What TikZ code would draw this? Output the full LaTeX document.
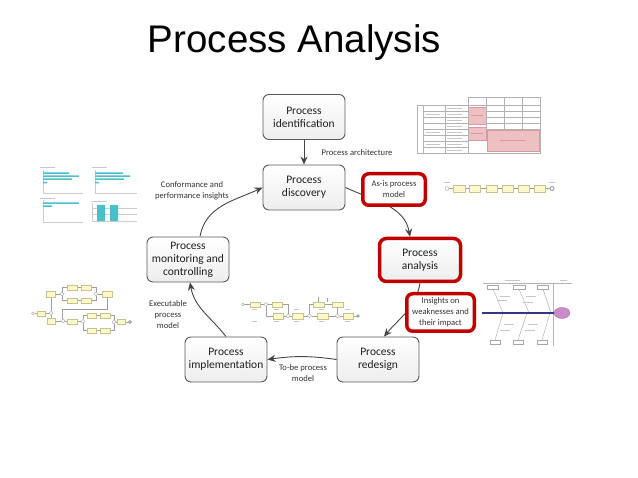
\documentclass[tikz,border=0pt]{standalone}
\usepackage{fontspec}
\setmainfont{Carlito}
\newfontfamily\titlefont{Liberation Sans}
\usetikzlibrary{arrows.meta}
\pgfdeclarelayer{bg}
\pgfsetlayers{bg,main}
\definecolor{boxborder}{HTML}{595959}
\definecolor{redc}{HTML}{C00000}
\definecolor{arrowc}{HTML}{454545}
\definecolor{txtc}{HTML}{1F1F1F}
\definecolor{labc}{HTML}{333333}
\definecolor{tealbar}{HTML}{4BBFC8}
\definecolor{taskfill}{HTML}{FBF8CC}
\definecolor{taskdraw}{HTML}{C9C28A}
\definecolor{pinkc}{HTML}{EDC0C3}
\definecolor{pinkd}{HTML}{D99A9F}
\definecolor{navyc}{HTML}{34348A}
\definecolor{purpc}{HTML}{C98BC9}
\tikzset{
  pbox/.style={draw=boxborder, line width=0.9pt, rounded corners=6pt,
    top color=white, bottom color=black!7, minimum width=82pt, minimum height=45pt,
    align=center, text=txtc, inner sep=1pt, font=\fontsize{11.5}{13}\selectfont},
  redlab/.style={draw=redc, line width=3.5pt, rounded corners=6pt, fill=white,
    align=center, text=labc, inner sep=1pt, font=\fontsize{8.6}{11}\selectfont},
  lab/.style={align=center, text=labc, inner sep=1pt, font=\fontsize{8.6}{11}\selectfont},
  conn/.style={draw=arrowc, line width=0.9pt, -{Stealth[length=8pt,width=7pt]}},
  task/.style={draw=taskdraw, fill=taskfill, line width=0.4pt},
  flow/.style={draw=gray!75, line width=0.35pt},
  tbl/.style={draw=gray!60, line width=0.35pt},
  axisl/.style={draw=gray!40, line width=0.3pt},
  scrib/.style={draw=gray!45, line width=0.5pt},
  gwst/.style={draw=gray!75, fill=white, line width=0.35pt},
  thbox/.style={draw=gray!70, fill=white, line width=0.35pt}
}
\begin{document}
\begin{tikzpicture}[x=1pt,y=1pt]
\useasboundingbox (0,0) rectangle (638,478);

% title
\node[anchor=base, inner sep=0pt, font=\titlefont\fontsize{38.5}{40}\selectfont] (title) at (294.5,425) {Process Analysis};

% main nodes
\node[pbox] (ident) at (304,361) {Process\\identification};
\node[pbox] (disc) at (304,290.5) {Process\\discovery};
\node[pbox] (mon) at (188,218.5) {Process\\monitoring and\\controlling};
\node[pbox] (impl) at (226,118.5) {Process\\implementation};
\node[pbox] (redes) at (378,118.5) {Process\\redesign};
\node[pbox, draw=redc, line width=3.5pt, rounded corners=7pt, minimum width=81pt, minimum height=43pt] (ana) at (420,218) {Process\\analysis};

% labels
\node[lab] (larch) at (357,325.5) {Process architecture};
\node[lab] (lconf) at (192,287) {Conformance and\\performance insights};
\node[lab] (lexec) at (168,163) {Executable\\process\\model};
\node[lab] (ltobe) at (303,105) {To-be process\\model};
\node[redlab, minimum width=62.5pt, minimum height=31.5pt] (asis) at (394,288.5) {As-is process\\model};
\node[redlab, minimum width=67.5pt, minimum height=37.5pt] (ins) at (440.5,165.5) {Insights on\\weaknesses and\\their impact};

\begin{pgfonlayer}{bg}
% connectors
\draw[conn] (ident) -- (disc);
\draw[conn] (disc.east) to[out=-25,in=100] ([xshift=-10pt]ana.north);
\draw[conn] (ana.south) to[out=-100,in=50] ([xshift=6pt]redes.north);
\draw[conn] (redes.west) to[out=172,in=8] (impl.east);
\draw[conn] (impl.north) to[out=128,in=-80] ([xshift=2pt]mon.south);
\draw[conn] ([xshift=12pt]mon.north) to[out=80,in=205] (disc.west);

\begin{scope}[shift={(0,478)}, yscale=-1]
% ---- table thumbnail (top right)
\fill[pinkc] (468,107) rectangle (486,124);
\fill[pinkc] (468,127) rectangle (486,140);
\fill[pinkc] (487,130) rectangle (539,151);
\draw[pinkd, line width=0.4pt] (468,107) rectangle (486,124) (468,127) rectangle (486,140) (487,130) rectangle (539,151);
\draw[tbl] (468,97) rectangle (540,105);
\draw[tbl] (417,105) rectangle (540,153);
\foreach \x in {486,504,522} \draw[tbl] (\x,97) -- (\x,129);
\foreach \y in {111,117,123,129,135,141,147} \draw[tbl] (423,\y) -- (468,\y);
\foreach \y in {111,117,123,129} \draw[tbl] (486,\y) -- (540,\y);
\draw[tbl] (423,105) -- (423,153) (445,105) -- (445,153) (468,97) -- (468,153);
\foreach \y in {108,114,120,126,132,138,144,150} \draw[scrib, line width=0.35pt] (447,\y) -- (462,\y);
\foreach \y in {114,132,144} \draw[scrib, line width=0.35pt] (426,\y) -- (440,\y);
\draw[pinkd, line width=0.35pt] (500,140.5) -- (526,140.5) (471,115) -- (483,115) (471,133) -- (483,133);

% ---- as-is chain
\draw[flow] (447,188.5) -- (552,188.5);
\foreach \a/\b in {453/465,469/480,486/497,502/513,518/529,534/545}
  \draw[task] (\a,185) rectangle (\b,192);
\draw[gwst] (447,188.5) circle (2);
\draw[gwst, line width=0.9pt] (552,188.5) circle (2);
\draw[scrib, line width=0.35pt] (444,182) -- (450,182) (549,182) -- (555,182);

% ---- charts (top left)
\draw[axisl] (43,170) -- (43,193) -- (83,193);
\fill[tealbar] (43,172.3) rectangle (69,173.8) (43,175.3) rectangle (79,176.8) (43,178.5) rectangle (72,180) (43,182) rectangle (47,183.5);
\draw[axisl] (95,170) -- (95,193) -- (137,193);
\fill[tealbar] (95,172.3) rectangle (123,173.8) (95,175.3) rectangle (130,176.8) (95,178.5) rectangle (124,180) (95,182) rectangle (99,183.5);
\draw[axisl] (43,200) -- (43,222) -- (83,222);
\fill[tealbar] (43,202.5) rectangle (79,204) (43,205.5) rectangle (52,207);
\draw[axisl] (92,203) -- (92,221) -- (137,221);
\draw[axisl] (92,208) -- (137,208) (92,214) -- (137,214);
\fill[tealbar] (97,205) rectangle (105,221) (110,205) rectangle (118,221);
\draw[scrib, line width=0.35pt] (40,167) -- (55,167) (92,167) -- (107,167) (40,198) -- (55,198) (92,201) -- (107,201);

% ---- BPMN thumbnail (left)
\draw[flow] (34.5,313.5) -- (37,313.5) (45,313.5) -- (49,313.5);
\draw[flow] (51,311.5) -- (51,297) (51,315.5) -- (51,321) -- (47,321);
\draw[flow] (55,294) -- (60,294);
\draw[flow] (62,292) -- (62,287.5) -- (67,287.5) (62,296) -- (62,300.5) -- (67,300.5);
\draw[flow] (77,287.5) -- (81,287.5) (77,300.5) -- (81,300.5);
\draw[flow] (91,287.5) -- (96,287.5) -- (96,292) (91,300.5) -- (96,300.5) -- (96,296);
\draw[flow] (98,294) -- (102,294);
\draw[flow, line width=0.6pt] (107,297) -- (107,309) -- (62,309) -- (62,319);
\draw[flow] (55,321) -- (61,321) (65,321) -- (67,321) (77,321.5) -- (81,321.5);
\draw[flow] (83,319.5) -- (83,315.5) -- (87,315.5) (83,323.5) -- (83,330.5) -- (87,330.5);
\draw[flow] (96,315.5) -- (100,315.5) (96,330.5) -- (100,330.5);
\draw[flow] (110,315.5) -- (114,315.5) -- (114,320) (110,330.5) -- (114,330.5) -- (114,324);
\draw[flow] (116,322) -- (117,322) (125,322) -- (128.5,322);
\draw[task] (37,311) rectangle (45,316);
\draw[task] (46,291) rectangle (55,297);
\draw[task] (67,285) rectangle (77,290);
\draw[task] (81,285) rectangle (91,290);
\draw[task] (67,298) rectangle (77,303);
\draw[task] (81,298) rectangle (91,303);
\draw[task] (102,291) rectangle (112,297);
\draw[task] (47,318) rectangle (55,324);
\draw[task] (67,319) rectangle (77,324);
\draw[task] (87,313) rectangle (96,318);
\draw[task] (100,313) rectangle (110,318);
\draw[task] (87,328) rectangle (96,333);
\draw[task] (100,328) rectangle (110,333);
\draw[task] (117,319.5) rectangle (125,324.5);
\foreach \p in {(51,313.5),(62,294),(96,294),(63,321),(83,321.5),(114,322)}
  \draw[gwst] \p ++(-2,0) -- ++(2,-2) -- ++(2,2) -- ++(-2,2) -- cycle;
\draw[gwst] (33,313.5) circle (1.5);
\draw[gwst, line width=0.8pt] (130,322) circle (1.5);

% ---- BPMN thumbnail (middle)
\draw[flow] (244.3,304.5) -- (250,304.5) (260,304.5) -- (264,304.5) (268,304.5) -- (272,304.5);
\draw[flow] (266,306.5) -- (266,316) -- (273,316);
\draw[flow] (282,304.5) -- (288,304.5) -- (288,314);
\draw[flow] (283,316) -- (286,316) (290,316) -- (292,316) (303,316) -- (307.5,316) (311.5,316) -- (317,316);
\draw[flow] (309.5,314) -- (309.5,304.5) -- (313,304.5) (324,304.5) -- (332,304.5);
\draw[flow] (337.5,307) -- (337.5,314) (328,316) -- (335.5,316) (339.5,316) -- (343,316) (353,316) -- (356.7,316);
\draw[flow] (318,297) -- (318,302) (327,298) -- (327,302);
\draw[task] (250,302) rectangle (260,307);
\draw[task] (272,302) rectangle (282,307);
\draw[task] (313,302) rectangle (324,307);
\draw[task] (332,302) rectangle (343,307);
\draw[task] (273,313) rectangle (283,319);
\draw[task] (292,313) rectangle (303,319);
\draw[task] (317,313) rectangle (328,319);
\draw[task] (343,313) rectangle (353,319);
\foreach \p in {(266,304.5),(288,316),(309.5,316),(337.5,316)}
  \draw[gwst] \p ++(-2,0) -- ++(2,-2) -- ++(2,2) -- ++(-2,2) -- cycle;
\draw[gwst] (243,304.5) circle (1.3);
\draw[gwst, line width=0.8pt] (358,316) circle (1.3);
\foreach \x in {252,274,294,319,345} \draw[scrib, line width=0.3pt] (\x,309) -- (\x+5,309) (\x,321) -- (\x+5,321);

% ---- fishbone (right)
\draw[tbl] (483,283) -- (572,283);
\draw[tbl] (553,283) -- (553,346);
\draw[flow] (493,289) -- (503,313) (519,289) -- (529,313) (543,289) -- (551,313);
\draw[flow] (503,313) -- (495,340) (527,313) -- (518,340) (550,313) -- (542,340);
\foreach \x/\y in {500/296,497/300,526/296,523/302,504/324,500/330,528/324,525/330}
  \draw[scrib, line width=0.35pt] (\x,\y) -- (\x+10,\y);
\draw[thbox] (487,285) rectangle (498,289);
\draw[thbox] (513,285) rectangle (525,289);
\draw[thbox] (537,285) rectangle (548,289);
\draw[thbox] (490,340) rectangle (500,344);
\draw[thbox] (513,340) rectangle (523,344);
\draw[thbox] (537,340) rectangle (547,344);
\draw[scrib, line width=0.35pt] (505,280) -- (520,280) (560,280) -- (567,280);
\draw[navyc, line width=1.8pt] (482,313) -- (555,313);
\draw[fill=purpc, draw=purpc!70!black, line width=0.3pt] (562,313) ellipse (8 and 5.5);
\end{scope}
\end{pgfonlayer}
\end{tikzpicture}
\end{document}
